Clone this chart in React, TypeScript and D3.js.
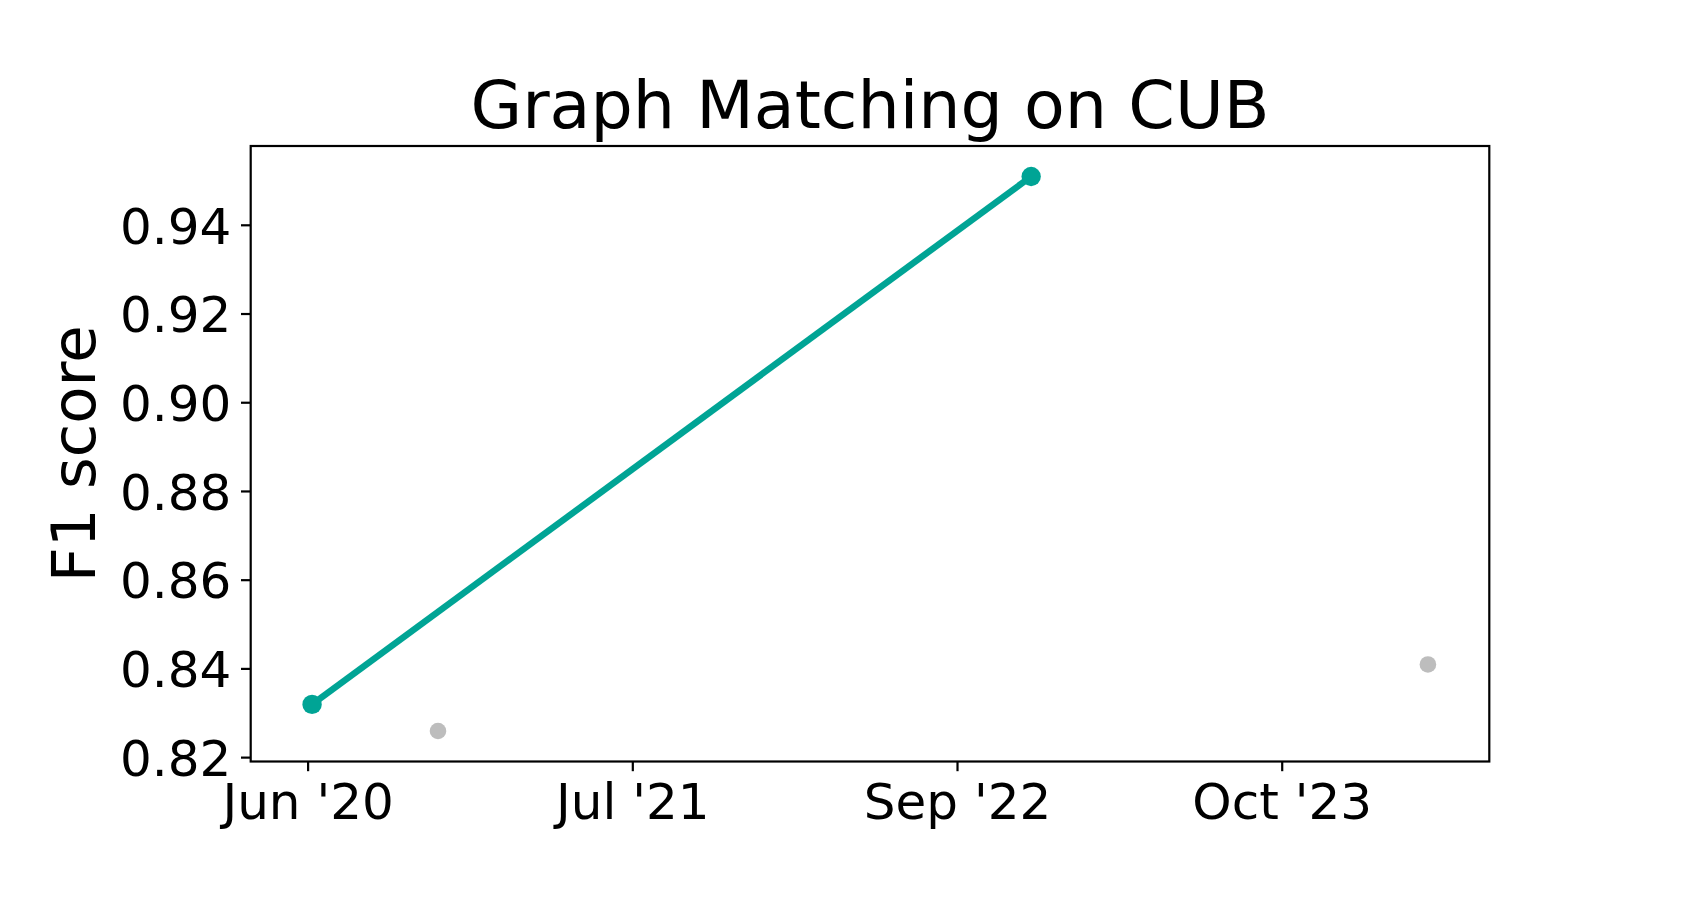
import * as d3 from "d3";

// F1 score over time, graph matching on CUB
const mainDates = ["2020-06-15", "2022-12-10"];
const mainScores = [0.832, 0.951];
const otherDates = ["2020-11-21", "2024-04-24"];
const otherScores = [0.826, 0.841];

const xTickDates = ["2020-06-10", "2021-07-25", "2022-09-08", "2023-10-23"];
const yTickValues = [0.82, 0.84, 0.86, 0.88, 0.9, 0.92, 0.94];

const title = "Graph Matching on CUB";
const yLabel = "F1 score";

export default function App() {
  const width = 1700,
    height = 900,
    left = 250.7,
    right = 1489.3,
    top = 146,
    bottom = 761.5,
    tickLength = 9.7,
    tickPad = 9.7,
    tickFont = 50,
    axisWidth = 2.2,
    padFrac = 0.055;

  const parse = d3.timeParse("%Y-%m-%d");
  const fmt = d3.timeFormat("%b '%y");

  const mainPoints = mainDates.map((d, i) => ({ date: parse(d)!, value: mainScores[i] }));
  const otherPoints = otherDates.map((d, i) => ({ date: parse(d)!, value: otherScores[i] }));
  const allPoints = [...mainPoints, ...otherPoints];

  const [tMin, tMax] = d3.extent(allPoints, (d) => +d.date) as [number, number];
  const [vMin, vMax] = d3.extent(allPoints, (d) => d.value) as [number, number];
  const tPad = (tMax - tMin) * padFrac;
  const vPad = (vMax - vMin) * padFrac;

  const xScale = d3
    .scaleTime()
    .domain([new Date(tMin - tPad), new Date(tMax + tPad)])
    .range([left, right]);
  const yScale = d3
    .scaleLinear()
    .domain([vMin - vPad, vMax + vPad])
    .range([bottom, top]);

  const line = d3
    .line<{ date: Date; value: number }>()
    .x((d) => xScale(d.date))
    .y((d) => yScale(d.value));

  const xTicks = xTickDates.map((d) => parse(d)!);

  return (
    <svg
      width={width}
      height={height}
      style={{ position: "absolute", left: 0, top: 0, background: "white" }}
      fontFamily="DejaVu Sans, sans-serif"
    >
      <rect x={0} y={0} width={width} height={height} fill="white" />

      {/* other methods */}
      {otherPoints.map((d, i) => (
        <circle key={i} cx={xScale(d.date)} cy={yScale(d.value)} r={8.3} fill="#bdbdbd" />
      ))}

      {/* main series */}
      <path d={line(mainPoints) ?? ""} fill="none" stroke="#00a495" strokeWidth={6.5} />
      {mainPoints.map((d, i) => (
        <circle key={i} cx={xScale(d.date)} cy={yScale(d.value)} r={9.7} fill="#00a495" />
      ))}

      {/* frame */}
      <rect
        x={left}
        y={top}
        width={right - left}
        height={bottom - top}
        fill="none"
        stroke="black"
        strokeWidth={axisWidth}
      />

      {/* x axis */}
      {xTicks.map((d, i) => (
        <g key={i}>
          <line
            x1={xScale(d)}
            x2={xScale(d)}
            y1={bottom}
            y2={bottom + tickLength}
            stroke="black"
            strokeWidth={axisWidth}
          />
          <text
            x={xScale(d)}
            y={bottom + tickLength + tickPad + tickFont * 0.76}
            textAnchor="middle"
            fontSize={tickFont}
          >
            {fmt(d)}
          </text>
        </g>
      ))}

      {/* y axis */}
      {yTickValues.map((v) => (
        <g key={v}>
          <line
            x1={left - tickLength}
            x2={left}
            y1={yScale(v)}
            y2={yScale(v)}
            stroke="black"
            strokeWidth={axisWidth}
          />
          <text
            x={left - tickLength - tickPad}
            y={yScale(v) + tickFont * 0.365}
            textAnchor="end"
            fontSize={tickFont}
          >
            {v.toFixed(2)}
          </text>
        </g>
      ))}

      <text
        transform={`translate(95 ${(top + bottom) / 2}) rotate(-90)`}
        textAnchor="middle"
        fontSize={61}
      >
        {yLabel}
      </text>

      <text x={(left + right) / 2} y={128} textAnchor="middle" fontSize={66.7}>
        {title}
      </text>
    </svg>
  );
}
